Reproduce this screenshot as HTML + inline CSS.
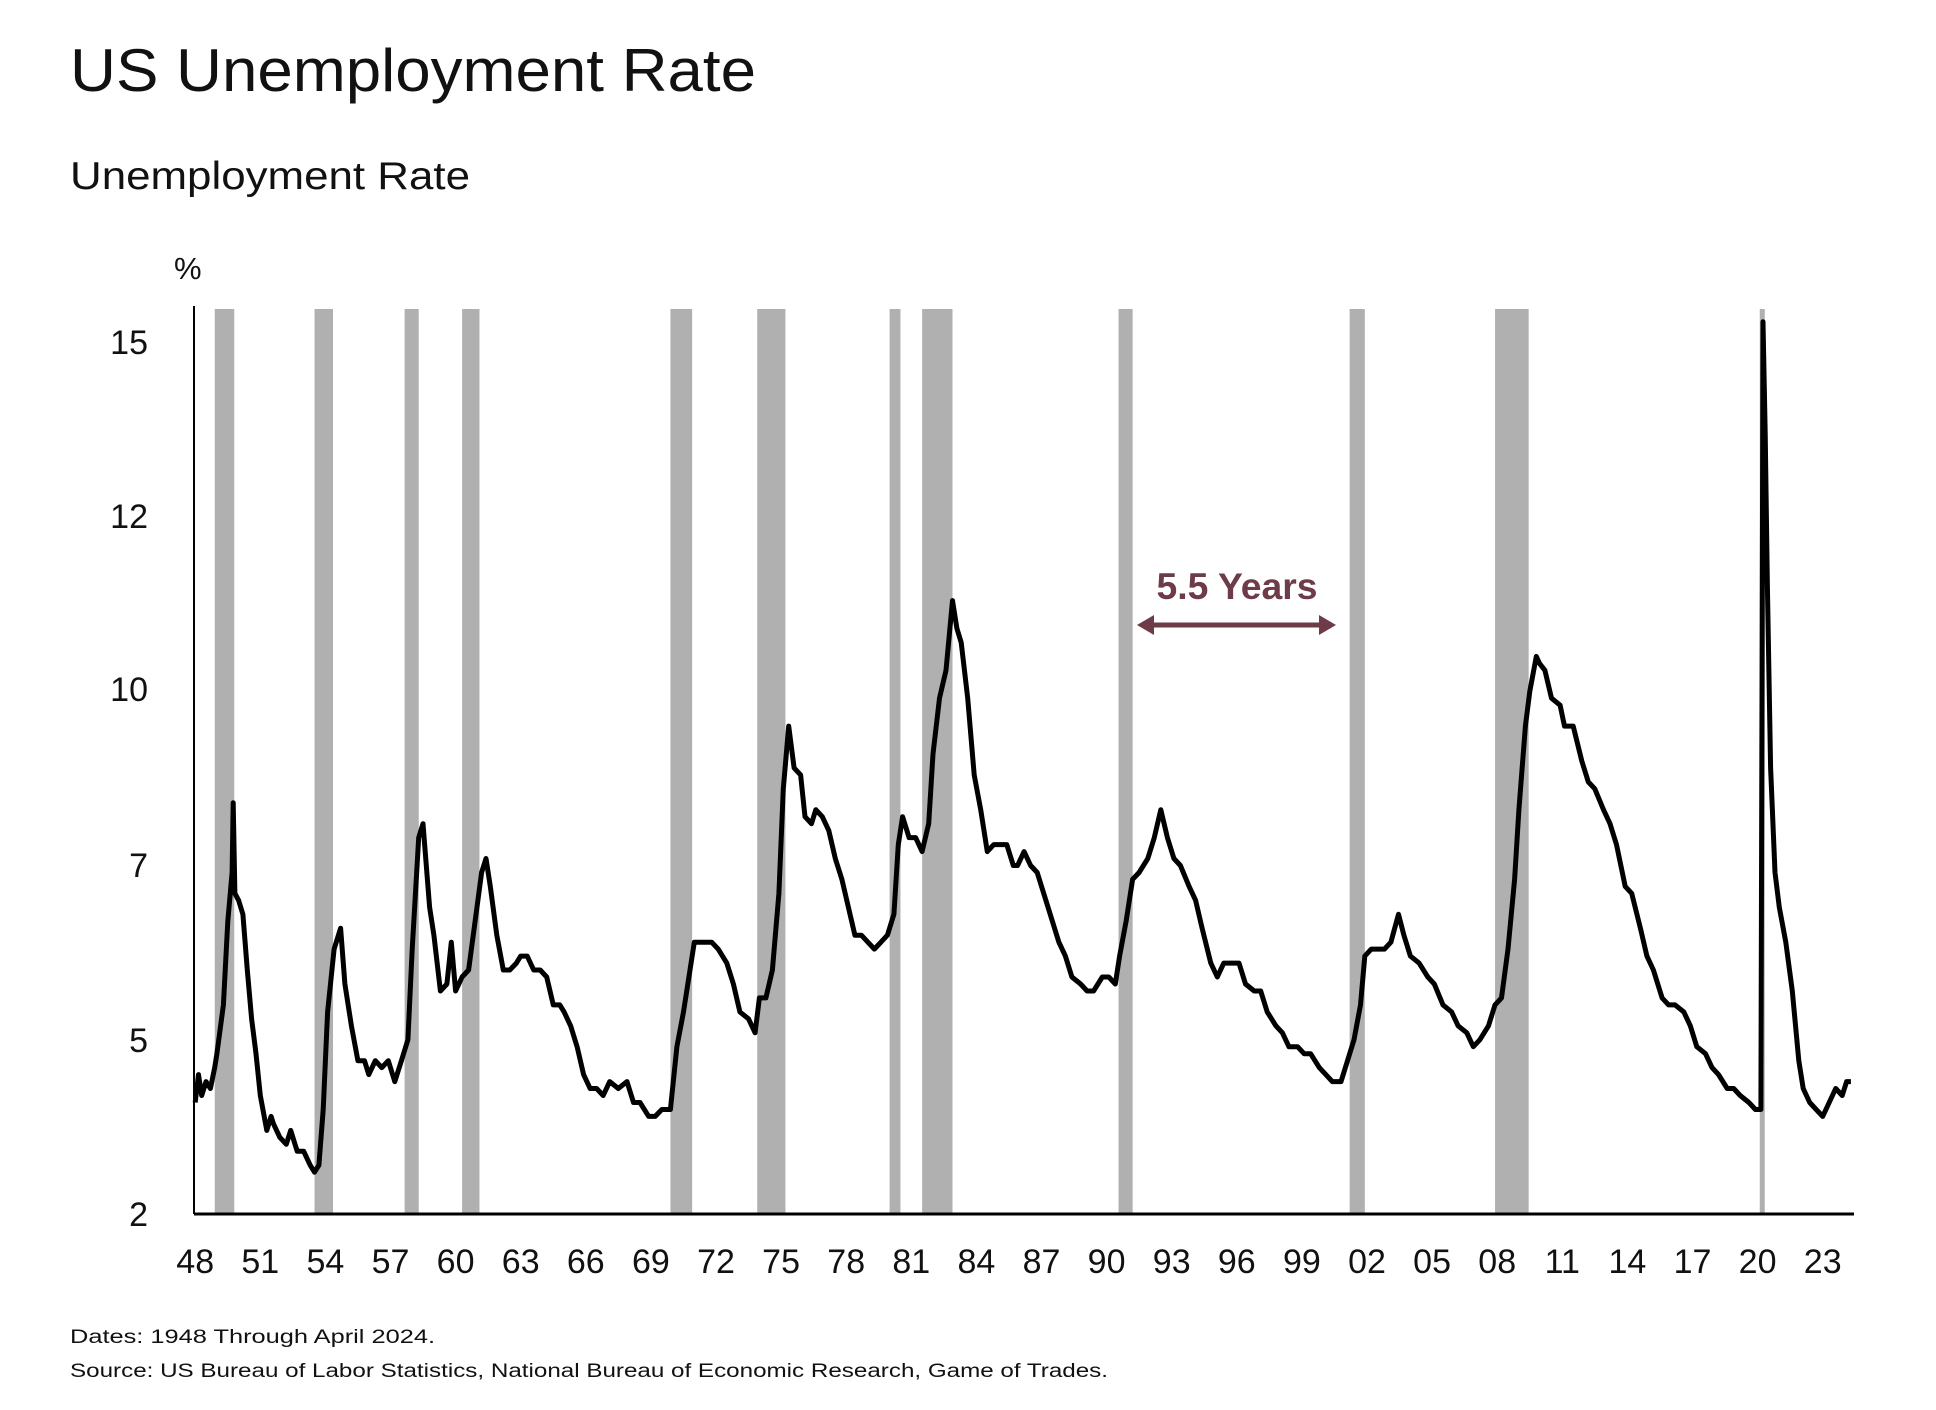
<!DOCTYPE html>
<html><head><meta charset="utf-8"><style>
html,body{margin:0;padding:0;background:#fff;}
svg{display:block;}
text{font-family:"Liberation Sans",sans-serif;}
</style></head><body>
<svg id="s" width="1936" height="1410" viewBox="0 0 1936 1410" xmlns="http://www.w3.org/2000/svg">
<rect width="1936" height="1410" fill="#fff"/>
<text x="70" y="91" font-size="60" fill="#111" textLength="686" lengthAdjust="spacingAndGlyphs">US Unemployment Rate</text>
<text x="70" y="189" font-size="39" fill="#111" textLength="400" lengthAdjust="spacingAndGlyphs">Unemployment Rate</text>
<text x="174" y="279" font-size="31" fill="#111">%</text>
<g id="bars"></g>
<g id="ylab" font-size="34" fill="#111" text-anchor="end"></g>
<g id="xlab" font-size="34" fill="#111" text-anchor="middle"></g>
<path id="line" fill="none" stroke="#000" stroke-width="5" stroke-linejoin="round"/>
<line x1="194" y1="306" x2="194" y2="1214" stroke="#000" stroke-width="2"/>
<line x1="194" y1="1214" x2="1854" y2="1214" stroke="#000" stroke-width="3"/>
<text x="1237" y="599" font-size="37" font-weight="bold" fill="#6e3b48" text-anchor="middle" textLength="161" lengthAdjust="spacingAndGlyphs">5.5 Years</text>
<line x1="1148" y1="625" x2="1326" y2="625" stroke="#6e3b48" stroke-width="5"/>
<polygon points="1137,625 1154,615 1154,635" fill="#6e3b48"/>
<polygon points="1336,625 1319,615 1319,635" fill="#6e3b48"/>
<text x="70" y="1343" font-size="19" fill="#111" textLength="365" lengthAdjust="spacingAndGlyphs">Dates: 1948 Through April 2024.</text>
<text x="70" y="1377" font-size="19" fill="#111" textLength="1038" lengthAdjust="spacingAndGlyphs">Source: US Bureau of Labor Statistics, National Bureau of Economic Research, Game of Trades.</text>
</svg>
<script>
var NS="http://www.w3.org/2000/svg";
function X(y){return 195.2+(y-1948)*21.70;}
function Y(v){return 1214-(v-2)*69.7;}
var bars=[[48.9,49.8],[53.5,54.35],[57.65,58.3],[60.3,61.1],[69.9,70.9],[73.9,75.2],[80.0,80.5],[81.5,82.9],[90.55,91.2],[101.2,101.9],[107.9,109.45],[120.1,120.3]];
var g=document.getElementById('bars');
bars.forEach(function(b){var r=document.createElementNS(NS,'rect');var x1=X(1900+b[0]),x2=X(1900+b[1]);r.setAttribute('x',x1);r.setAttribute('y',309);r.setAttribute('width',Math.max(5,x2-x1));r.setAttribute('height',905);r.setAttribute('fill','#b0b0b0');g.appendChild(r);});
var yl=[[15,342],[12,516],[10,689],[7,865],[5,1040],[2,1214]];
var gy=document.getElementById('ylab');
yl.forEach(function(l){var t=document.createElementNS(NS,'text');t.setAttribute('x',148);t.setAttribute('y',l[1]+12);t.textContent=l[0];gy.appendChild(t);});
var gx=document.getElementById('xlab');
for(var yr=1948;yr<=2023;yr+=3){var t=document.createElementNS(NS,'text');t.setAttribute('x',X(yr));t.setAttribute('y',1273);t.textContent=String(yr%100).padStart(2,'0');gx.appendChild(t);}
var d=[48.0,3.6,48.15,4.0,48.3,3.7,48.5,3.9,48.7,3.8,48.9,4.1,49.0,4.3,49.3,5.0,49.5,6.2,49.7,6.9,49.75,7.9,49.83,6.6,50.0,6.5,50.2,6.3,50.4,5.5,50.6,4.8,50.8,4.3,51.0,3.7,51.3,3.2,51.5,3.4,51.6,3.3,51.9,3.1,52.2,3.0,52.4,3.2,52.7,2.9,53.0,2.9,53.3,2.7,53.5,2.6,53.7,2.7,53.9,3.5,54.1,4.9,54.4,5.8,54.7,6.1,54.9,5.3,55.2,4.7,55.5,4.2,55.8,4.2,56.0,4.0,56.3,4.2,56.6,4.1,56.9,4.2,57.2,3.9,57.5,4.2,57.8,4.5,58.0,5.8,58.3,7.4,58.5,7.6,58.8,6.4,59.0,6.0,59.3,5.2,59.6,5.3,59.8,5.9,60.0,5.2,60.3,5.4,60.6,5.5,60.9,6.2,61.2,6.9,61.4,7.1,61.6,6.7,61.9,6.0,62.2,5.5,62.5,5.5,62.8,5.6,63.0,5.7,63.3,5.7,63.6,5.5,63.9,5.5,64.2,5.4,64.5,5.0,64.8,5.0,65.0,4.9,65.3,4.7,65.6,4.4,65.9,4.0,66.2,3.8,66.5,3.8,66.8,3.7,67.1,3.9,67.5,3.8,67.9,3.9,68.2,3.6,68.5,3.6,68.9,3.4,69.2,3.4,69.5,3.5,69.9,3.5,70.2,4.4,70.5,4.9,70.8,5.5,71.0,5.9,71.4,5.9,71.8,5.9,72.1,5.8,72.5,5.6,72.8,5.3,73.1,4.9,73.5,4.8,73.8,4.6,74.0,5.1,74.3,5.1,74.6,5.5,74.9,6.6,75.1,8.1,75.35,9.0,75.6,8.4,75.9,8.3,76.1,7.7,76.4,7.6,76.6,7.8,76.9,7.7,77.2,7.5,77.5,7.1,77.8,6.8,78.1,6.4,78.4,6.0,78.7,6.0,79.0,5.9,79.3,5.8,79.6,5.9,79.9,6.0,80.2,6.3,80.4,7.3,80.6,7.7,80.9,7.4,81.2,7.4,81.5,7.2,81.8,7.6,82.0,8.6,82.3,9.4,82.6,9.8,82.9,10.8,83.1,10.4,83.3,10.2,83.6,9.4,83.9,8.3,84.2,7.8,84.5,7.2,84.8,7.3,85.1,7.3,85.4,7.3,85.7,7.0,85.9,7.0,86.2,7.2,86.5,7.0,86.8,6.9,87.1,6.6,87.4,6.3,87.8,5.9,88.1,5.7,88.4,5.4,88.8,5.3,89.1,5.2,89.4,5.2,89.8,5.4,90.1,5.4,90.4,5.3,90.6,5.7,90.9,6.2,91.2,6.8,91.5,6.9,91.9,7.1,92.2,7.4,92.5,7.8,92.8,7.4,93.1,7.1,93.4,7.0,93.8,6.7,94.1,6.5,94.4,6.1,94.8,5.6,95.1,5.4,95.4,5.6,95.8,5.6,96.1,5.6,96.4,5.3,96.8,5.2,97.1,5.2,97.4,4.9,97.8,4.7,98.1,4.6,98.4,4.4,98.8,4.4,99.1,4.3,99.4,4.3,99.8,4.1,100.1,4.0,100.4,3.9,100.8,3.9,101.1,4.2,101.4,4.5,101.7,5.0,101.9,5.7,102.2,5.8,102.5,5.8,102.8,5.8,103.1,5.9,103.45,6.3,103.7,6.0,104.0,5.7,104.4,5.6,104.8,5.4,105.1,5.3,105.5,5.0,105.9,4.9,106.2,4.7,106.6,4.6,106.9,4.4,107.2,4.5,107.6,4.7,107.9,5.0,108.2,5.1,108.5,5.8,108.8,6.8,109.0,7.8,109.3,9.0,109.5,9.5,109.8,10.0,109.95,9.9,110.2,9.8,110.5,9.4,110.9,9.3,111.1,9.0,111.5,9.0,111.9,8.5,112.2,8.2,112.5,8.1,112.9,7.8,113.2,7.6,113.5,7.3,113.9,6.7,114.2,6.6,114.6,6.1,114.9,5.7,115.2,5.5,115.6,5.1,115.9,5.0,116.2,5.0,116.6,4.9,116.9,4.7,117.2,4.4,117.6,4.3,117.9,4.1,118.2,4.0,118.6,3.8,118.9,3.8,119.2,3.7,119.6,3.6,119.9,3.5,120.15,3.5,120.25,14.8,120.35,13.2,120.45,11.0,120.6,8.4,120.8,6.9,121.0,6.4,121.3,5.9,121.6,5.2,121.9,4.2,122.1,3.8,122.4,3.6,122.7,3.5,123.0,3.4,123.3,3.6,123.6,3.8,123.9,3.7,124.1,3.9,124.3,3.9];
var p="";
for(var i=0;i<d.length;i+=2){p+=(i?"L":"M")+X(1900+d[i]).toFixed(1)+","+Y(d[i+1]).toFixed(1);}
document.getElementById('line').setAttribute('d',p);
</script>
</body></html>
